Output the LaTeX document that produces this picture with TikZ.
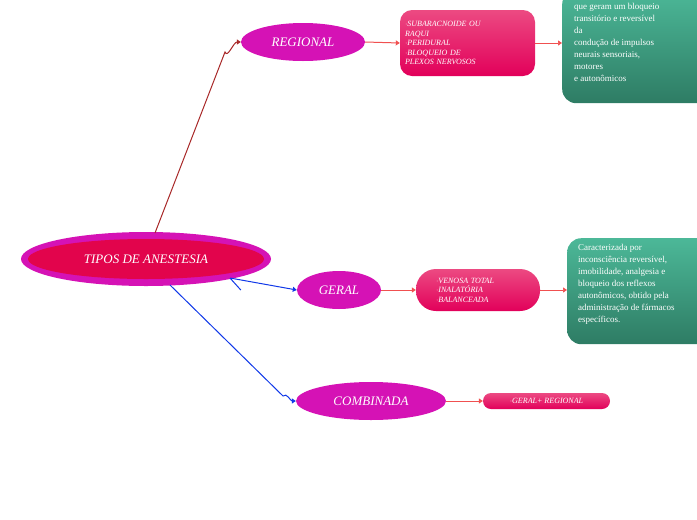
\documentclass[tikz,border=0pt]{standalone}
\usepackage{fontspec}
\setmainfont{Liberation Serif}
\usetikzlibrary{arrows.meta}
\definecolor{mag}{HTML}{D512B5}
\definecolor{crim}{HTML}{E2044C}
\definecolor{pinkT}{HTML}{EC4A82}
\definecolor{pinkB}{HTML}{E2005A}
\definecolor{grT}{HTML}{4CB898}
\definecolor{grB}{HTML}{2E7C64}
\definecolor{lnred}{HTML}{F05050}
\definecolor{dred}{HTML}{A82828}
\definecolor{blu}{HTML}{1038E8}
\tikzset{x=1pt,y=-1pt,
 topic/.style={ellipse,fill=mag,text=white,font=\itshape\fontsize{13}{14}\selectfont},
 pbox/.style={draw=none,top color=pinkT,bottom color=pinkB,text=white,font=\itshape\fontsize{8}{9.5}\selectfont,align=left,inner sep=3pt},
 gbox/.style={top color=grT,bottom color=grB,text=white,font=\fontsize{9}{11}\selectfont,align=left,anchor=north west,inner sep=0pt,rounded corners=14pt},
 rl/.style={lnred,line width=1pt,-{Triangle[length=4pt,width=5pt]}},
 ml/.style={line width=1pt,-{Triangle[length=4pt,width=5pt]}}}
\usetikzlibrary{shapes.geometric}
\begin{document}
\begin{tikzpicture}
\useasboundingbox (0,0) rectangle (697,520);
\clip (0,0) rectangle (697,520);
% central
\node[ellipse,fill=mag,minimum width=250pt,minimum height=54pt] (c) at (146,259) {};
\node[ellipse,fill=crim,minimum width=236pt,minimum height=40pt,text=white,font=\itshape\fontsize{13}{14}\selectfont] (ct) at (146,259) {TIPOS DE ANESTESIA};
\node[topic,minimum width=124pt,minimum height=38pt] (reg) at (303,42) {REGIONAL};
\node[topic,minimum width=84pt,minimum height=38pt] (ger) at (339,290) {GERAL};
\node[topic,minimum width=150pt,minimum height=38pt] (com) at (371,401) {COMBINADA};
% connectors
\draw[ml,dred] (155,233) -- (225,52) to[out=-70,in=180] (reg.west);
\draw[ml,blu] (230,278) -- (reg.west |- ger.west) ++(0,0) (230,278) -- (ger.west);
\draw[ml,blu] (170,285) -- (283,396) to[out=45,in=180] (com.west);
% pink boxes
\node[pbox,rounded corners=12pt,minimum width=135pt,minimum height=66pt,text width=125pt] (rb) at (467.5,43) {$\cdot$SUBARACNOIDE OU\\RAQUI\\$\cdot$PERIDURAL\\$\cdot$BLOQUEIO DE\\PLEXOS NERVOSOS};
\node[pbox,rounded corners=20pt,minimum width=124pt,minimum height=42pt,text width=84pt] (gb) at (478,290) {$\cdot$VENOSA TOTAL\\$\cdot$INALATÓRIA\\$\cdot$BALANCEADA};
\node[pbox,rounded corners=8pt,minimum width=127pt,minimum height=16pt,inner sep=1pt] (cb) at (546.5,401) {$\cdot$GERAL+ REGIONAL};
\draw[rl] (reg.east) -- (rb.west);
\draw[rl] (ger.east) -- (gb.west);
\draw[rl] (com.east) -- (cb.west);
% green boxes
\node[gbox,minimum width=150pt,minimum height=113pt] (g1) at (562,-10) {};
\node[anchor=north west,text=white,font=\fontsize{9}{12}\selectfont,align=left,inner sep=0pt] (g1t) at (574,3) {que geram um bloqueio\\transitório e reversível\\da\\condução de impulsos\\neurais sensoriais,\\motores\\e autonômicos};
\node[gbox,minimum width=145pt,minimum height=106pt] (g2) at (567,238) {};
\node[anchor=north west,text=white,font=\fontsize{9}{12}\selectfont,align=left,inner sep=0pt] (g2t) at (578,244) {Caracterizada por\\inconsciência reversível,\\imobilidade, analgesia e\\bloqueio dos reflexos\\autonômicos, obtido pela\\administração de fármacos\\específicos.};
\draw[rl,line width=0.6pt] (rb.east) -- (g1.west |- rb.east);
\draw[rl,line width=0.6pt] (gb.east) -- (g2.west |- gb.east);
\end{tikzpicture}
\end{document}
